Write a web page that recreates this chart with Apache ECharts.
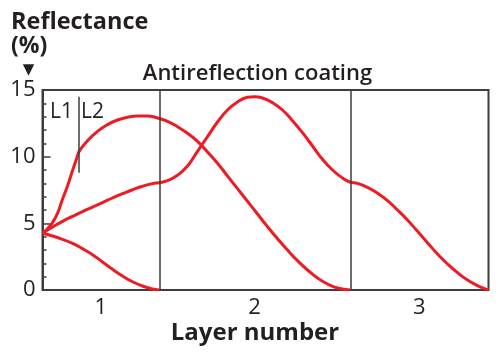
<!DOCTYPE html>
<html>
<head>
<meta charset="utf-8">
<script src="https://cdn.jsdelivr.net/npm/echarts@6/dist/echarts.min.js"></script>
<style>
html,body{margin:0;padding:0;background:#fff;}
#chart{width:500px;height:352px;}
</style>
</head>
<body>
<div id="chart"></div>
<script>
// ---- data ----
const layerLabels = ['1', '2', '3'];
const layerBounds = [0, 1.165, 3.075, 4.46];   // layer boundaries along depth
const subLayerBound = 0.365;                    // L1 | L2 boundary inside layer 1
const subLayerLabels = ['L1', 'L2'];
const yTicks = [0, 5, 10, 15];

// curve A (first layer split into L1 / L2)
const curveA_L1 = [[0,4.25],[0.05,4.6],[0.1,5.05],[0.15,5.75],[0.2,6.8],[0.25,7.8],[0.3,8.95],[0.365,10.4]];
const curveA_rest = [[0.365,10.4],[0.45,11.2],[0.55,11.9],[0.65,12.4],[0.75,12.75],[0.85,12.95],[0.95,13.05],[1.05,13.05],[1.15,12.9],[1.25,12.65],[1.35,12.25],[1.45,11.75],[1.55,11.15],[1.65,10.35],[1.75,9.5],[1.85,8.55],[1.95,7.6],[2.05,6.65],[2.15,5.7],[2.25,4.75],[2.35,3.85],[2.45,3.0],[2.55,2.2],[2.65,1.5],[2.75,0.9],[2.85,0.45],[2.95,0.15],[3.075,0]];
// curve B (three layers)
const curveB = [[0,4.25],[0.1,4.72],[0.2,5.15],[0.3,5.52],[0.4,5.88],[0.5,6.22],[0.6,6.56],[0.7,6.9],[0.8,7.22],[0.9,7.52],[1.0,7.78],[1.1,7.98],[1.165,8.05],[1.25,8.2],[1.35,8.6],[1.45,9.3],[1.55,10.4],[1.65,11.5],[1.75,12.6],[1.85,13.5],[1.95,14.1],[2.05,14.45],[2.12,14.5],[2.2,14.4],[2.3,14.05],[2.4,13.5],[2.5,12.7],[2.6,11.8],[2.7,10.8],[2.8,9.8],[2.9,9.0],[3.0,8.4],[3.075,8.1],[3.15,8.0],[3.25,7.7],[3.35,7.25],[3.45,6.7],[3.55,6.0],[3.65,5.25],[3.75,4.4],[3.85,3.55],[3.95,2.7],[4.05,1.95],[4.15,1.3],[4.25,0.75],[4.35,0.33],[4.42,0.1],[4.46,0]];
// curve C (single layer)
const curveC = [[0,4.25],[0.1,4.05],[0.2,3.8],[0.3,3.5],[0.4,3.1],[0.5,2.65],[0.6,2.1],[0.7,1.55],[0.8,1.05],[0.9,0.62],[1.0,0.3],[1.1,0.07],[1.165,0]];

// ---- chart ----
const TXT = '#231f20';
const FRAME = '#3d3d3d';
const RED = '#ed1c24';
const FONT = '"Open Sans", "Noto Sans", sans-serif';

const layerCenters = layerBounds.slice(0, -1).map((b, i) => (b + layerBounds[i + 1]) / 2);

const chart = echarts.init(document.getElementById('chart'), null, {renderer: 'canvas'});

function lineSeries(name, data, extra) {
  return Object.assign({
    name: name, type: 'line', data: data, smooth: true,
    showSymbol: false, symbol: 'none', silent: true, animation: false,
    lineStyle: {color: RED, width: 3}, z: 3
  }, extra || {});
}

chart.setOption({
  animation: false,
  grid: {left: 42.5, right: 11.5, top: 90, bottom: 62, show: true, borderColor: FRAME, borderWidth: 2, backgroundColor: 'transparent'},
  xAxis: {
    type: 'value', min: layerBounds[0], max: layerBounds[layerBounds.length - 1],
    axisLine: {show: false}, axisTick: {show: false}, splitLine: {show: false},
    axisLabel: {
      customValues: layerCenters,
      formatter: function (v) {
        let best = 0;
        layerCenters.forEach((c, i) => { if (Math.abs(c - v) < Math.abs(layerCenters[best] - v)) best = i; });
        return layerLabels[best];
      },
      fontSize: 22, color: TXT, fontFamily: FONT, margin: 7
    }
  },
  yAxis: {
    type: 'value', min: yTicks[0], max: yTicks[yTicks.length - 1], interval: 5,
    axisLine: {show: true, lineStyle: {color: FRAME, width: 2}},
    axisTick: {show: true, inside: true, length: 8, lineStyle: {color: FRAME, width: 1.5}},
    minorTick: {show: true, splitNumber: 5, length: 4, lineStyle: {color: FRAME, width: 1.5}},
    splitLine: {show: false}, minorSplitLine: {show: false},
    axisLabel: {fontSize: 22, color: TXT, fontFamily: FONT, margin: 7}
  },
  series: [
    lineSeries('A1', curveA_L1, {
      markLine: {
        silent: true, symbol: 'none', animation: false,
        label: {show: false},
        lineStyle: {color: FRAME, width: 1.5, type: 'solid'},
        data: layerBounds.slice(1, -1).map(b => ({xAxis: b}))
          .concat([[{coord: [subLayerBound, 14.5]}, {coord: [subLayerBound, 8.8]}]])
      }
    }),
    lineSeries('A2', curveA_rest),
    lineSeries('B', curveB),
    lineSeries('C', curveC)
  ],
  graphic: [
    {type: 'text', x: 11, y: 10, style: {text: 'Reflectance', font: 'bold 23.5px ' + FONT, fill: TXT, textAlign: 'left', textVerticalAlign: 'top'}},
    {type: 'text', x: 11, y: 35, style: {text: '(%)', font: 'bold 23px ' + FONT, fill: TXT, textAlign: 'left', textVerticalAlign: 'top'}},
    {type: 'text', x: 28.5, y: 70, style: {text: '▼', font: '15px "DejaVu Sans"', fill: TXT, textAlign: 'center', textVerticalAlign: 'middle'}},
    {type: 'text', x: 257.5, y: 63, style: {text: 'Antireflection coating', font: '600 22px ' + FONT, fill: TXT, textAlign: 'center', textVerticalAlign: 'top'}},
    {type: 'text', x: 50, y: 102, style: {text: subLayerLabels[0], font: '21px ' + FONT, fill: TXT, textAlign: 'left', textVerticalAlign: 'top'}},
    {type: 'text', x: 81, y: 102, style: {text: subLayerLabels[1], font: '21px ' + FONT, fill: TXT, textAlign: 'left', textVerticalAlign: 'top'}},
    {type: 'text', x: 255, y: 321, style: {text: 'Layer number', font: 'bold 24px ' + FONT, fill: TXT, textAlign: 'center', textVerticalAlign: 'top'}}
  ]
});
</script>
</body>
</html>
